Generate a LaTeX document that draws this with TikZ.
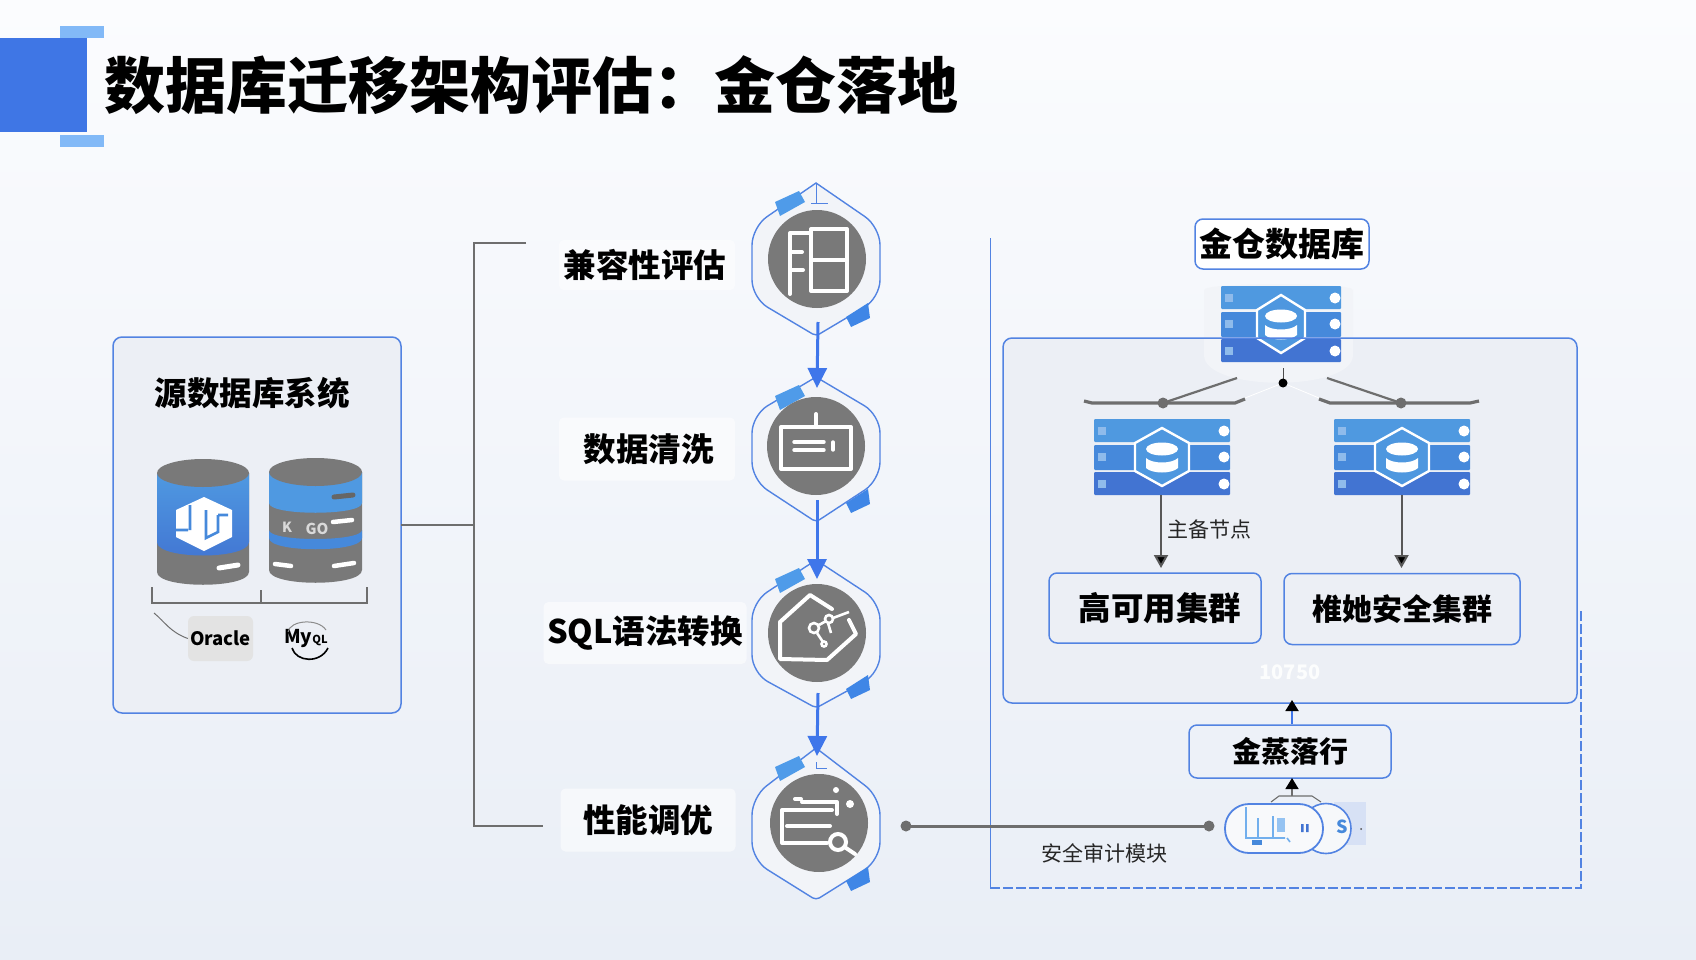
\documentclass[tikz,border=0pt]{standalone}
\usepackage{fontspec}
\setmainfont{Noto Sans CJK SC}
\usetikzlibrary{arrows.meta}
\definecolor{edgeblue}{HTML}{5283E2}
\definecolor{arrowblue}{HTML}{3F76EA}
\definecolor{iconbase}{HTML}{797979}
\definecolor{panelfill}{HTML}{ECEFF5}
\definecolor{linegray}{HTML}{6E6E6E}
\definecolor{tagtop}{HTML}{4F9BE9}
\definecolor{taglow}{HTML}{3F86E6}
\definecolor{sa}{HTML}{4F99E0}
\definecolor{sb}{HTML}{4689DB}
\definecolor{sc}{HTML}{4274D2}
\definecolor{sq}{HTML}{8FBBEB}
\definecolor{marklight}{HTML}{82B9F7}
\definecolor{bgtop}{HTML}{FBFCFE}
\definecolor{bgmid}{HTML}{F3F5FA}
\definecolor{bgbot}{HTML}{E9EEF6}
\newcommand{\fsz}[1]{\fontsize{#1}{#1}\selectfont}
\tikzset{
  x=1pt,y=-1pt,
  panel/.style={draw=edgeblue,line width=1.5pt,fill=panelfill,rounded corners=9pt},
  chip/.style={fill=white,fill opacity=.55,text opacity=1,rounded corners=5pt,inner sep=0pt,font=\fsz{32.5}\bfseries},
  boxed/.style={draw=edgeblue,line width=1.5pt,rounded corners=8pt,inner sep=0pt,font=\fsz{32.5}\bfseries},
  hexline/.style={draw=edgeblue,line width=1.4pt,fill=panelfill!70!white},
  badge/.style={circle,fill=iconbase,minimum size=98pt,inner sep=0pt},
  ic/.style={draw=white,line width=4pt,line cap=round,line join=round},
  flow/.style={draw=arrowblue,line width=3pt,-{Triangle[length=20pt,width=19pt]}},
  down/.style={draw=linegray!80!black,line width=2pt,-{Triangle[length=13pt,width=14pt,fill=black]}},
  upa/.style={line width=1.8pt,-{Triangle[length=11pt,width=13pt,color=black]}},
  glink/.style={draw=linegray,line width=2.8pt},
  thin/.style={draw=linegray,line width=1.3pt},
  note/.style={inner sep=0pt,text=black!85,font=\fsz{21}},
}
% hexagon cell: cx, top, side top, side bottom, bottom
\newcommand{\hexcell}[5]{%
  \path[hexline] (#1,#2) [rounded corners=18pt] -- (#1+64,#3) -- (#1+64,#4) [rounded corners=4pt] -- (#1,#5) [rounded corners=18pt] -- (#1-64,#4) -- (#1-64,#3) [sharp corners] -- cycle;
  \fill[tagtop] (#1-41,#2+19) -- (#1-17,#2+8) -- (#1-11,#2+19) -- (#1-36,#2+33) -- cycle;
  \fill[taglow] (#1+30,#5-19) -- (#1+52,#5-33) -- (#1+54,#5-18) -- (#1+35,#5-9) -- cycle;
}
\newcommand{\serverdb}[4]{%
  \fill[sa,rounded corners=1pt] (#1-#3,#2-38) rectangle (#1+#3,#2-15);
  \fill[sb,rounded corners=1pt] (#1-#3,#2-12) rectangle (#1+#3,#2+13);
  \fill[sc,rounded corners=1pt] (#1-#3,#2+15) rectangle (#1+#3,#2+38);
  \foreach \yy in {-26,0,27}{
    \fill[sq] (#1-#3+4,#2+\yy-4) rectangle ++(8,8);
    \fill[white] (#1+#3-6,#2+\yy) circle (5.5);
  }
  \draw[white,line width=2.4pt,fill=sa!85!sb] (#1,#2-29) -- (#1+#4,#2-14) -- (#1+#4,#2+14) -- (#1,#2+29) -- (#1-#4,#2+14) -- (#1-#4,#2-14) -- cycle;
  \fill[white] (#1,#2-8) ellipse (16 and 6.5);
  \fill[white] (#1-16,#2+1) .. controls (#1-10,#2+7) and (#1+10,#2+7) .. (#1+16,#2+1) -- (#1+16,#2+11) .. controls (#1+10,#2+17) and (#1-10,#2+17) .. (#1-16,#2+11) -- cycle;
}
\begin{document}
\begin{tikzpicture}
\useasboundingbox (0,0) rectangle (1696,960);
\shade[top color=bgtop,middle color=bgmid,bottom color=bgbot] (0,0) rectangle (1696,960);

% header mark
\fill[marklight] (60,26) rectangle (104,38);
\fill[marklight] (60,135) rectangle (104,147);
\fill[arrowblue!80!sc] (0,38) rectangle (87,132);
\node[inner sep=0pt,anchor=west,font=\fsz{61}\bfseries] (title) at (104,85) {数据库迁移架构评估：金仓落地};

% source panel
\path[panel] (113,337) rectangle (401,713);
\node[inner sep=0pt,font=\fsz{32.5}\bfseries] (srctitle) at (252,393) {源数据库系统};

% cylinder 1
\fill[iconbase] (157,473) -- (249,473) -- (249,572) .. controls (249,589) and (157,589) .. (157,572) -- cycle;
\shade[top color=sa!90!tagtop,bottom color=sc!90!sb] (157,473) -- (249,473) -- (249,542) .. controls (249,560) and (157,560) .. (157,542) -- cycle;
\fill[iconbase] (203,473) ellipse (46 and 14);
\fill[white] (204,497) -- (232,510) -- (232,537) -- (204,551) -- (176,537) -- (176,510) -- cycle;
\draw[sb,line width=2.6pt] (190,505) -- (190,530) (176,530) -- (188,530) (206,510) -- (206,538) -- (218,532) -- (218,515) (218,515) -- (228,515);
\draw[white,line width=5pt,line cap=round] (219,568) -- (238,565);

% cylinder 2
\fill[iconbase] (269,472) -- (362,472) -- (362,570) .. controls (362,587) and (269,587) .. (269,570) -- cycle;
\fill[sa!90!tagtop] (269,472) -- (362,472) -- (362,503) .. controls (362,516) and (269,516) .. (269,503) -- cycle;
\fill[sb] (269,530) .. controls (269,542) and (362,542) .. (362,530) -- (362,538) .. controls (362,553) and (269,553) .. (269,538) -- cycle;
\fill[iconbase] (315.5,472) ellipse (46.5 and 14);
\draw[black!60,line width=5pt,line cap=round] (334,497) -- (353,495);
\draw[white,line width=4.5pt,line cap=round] (333,522) -- (352,520) (275,564) -- (291,566) (334,566) -- (354,563);
\node[inner sep=0pt,text=white!85!black,font=\fsz{15}\bfseries] (glyphb) at (317,529) {GO};
\node[inner sep=0pt,text=white!85!black,font=\fsz{14}\bfseries] (glypha) at (287,527) {K};

% bracket under cylinders
\draw[thin] (152,587) -- (152,603) -- (367,603) -- (367,587) (261,590) -- (261,603);
\node[fill=black!11,rounded corners=6pt,minimum width=65pt,minimum height=45pt,inner sep=0pt,font=\fsz{18.5}\bfseries] (oracle) at (220.5,638.5) {Oracle};
\coordinate (orfree) at (154,613);
\draw[draw=linegray,line width=1pt] (orfree) .. controls (165,622) and (170,632) .. (oracle.west);
\node[inner sep=0pt,font=\fsz{19}\bfseries] (mysql) at (306,638) {My\fsz{11}QL};
\draw[black,line width=1.6pt] (292,648) .. controls (296,662) and (320,664) .. (328,648);
\draw[black!45,line width=1pt] (288,632) .. controls (290,620) and (318,618) .. (326,630);

% source to bracket
\coordinate (brU) at (526,243);
\coordinate (brL) at (543,826);
\draw[glink] (401,525) -- (474,525);
\draw[glink] (brU) -- (474,243) -- (474,826) -- (brL);

% step labels
\node[chip,minimum width=176pt,minimum height=50pt] (s1) at (647,265) {\hspace*{-4pt}兼容性评估};
\node[chip,minimum width=176pt,minimum height=63pt] (s2) at (647,449) {\hspace*{3pt}数据清洗};
\node[chip,minimum width=203pt,minimum height=62pt] (s3) at (645,633) {SQL语法转换};
\node[chip,minimum width=175pt,minimum height=63pt] (s4) at (648,820) {性能调优};

% hexagons
\hexcell{816}{183}{227}{298}{336}
\hexcell{816}{377}{415}{480}{522}
\hexcell{816}{560}{602}{673}{708}
\hexcell{816}{748}{797}{860}{900}
\draw[edgeblue,line width=.8pt] (816,184) -- (816,203) (811,203) -- (828,203);
\draw[edgeblue,line width=1pt] (816,762) -- (816,768) -- (827,768);

% icon 1
\node[badge] (c1) at (817,259) {};
\begin{scope}[shift={(817,259)}]
\draw[ic] (-6,-30) rectangle (30,32) (-6,1) -- (30,1);
\draw[ic] (-6,-26) -- (-27,-26) -- (-27,35) (-27,-7) -- (-15,-7) (-27,11) -- (-14,11);
\end{scope}
% icon 2
\node[badge] (c2) at (816,446) {};
\begin{scope}[shift={(816,446)}]
\draw[ic] (-35,-19) rectangle (35,23) (0,-32) -- (0,-19);
\draw[ic,line width=3.4pt] (-22,-4) -- (8,-4) (-22,4) -- (8,4) (17,-4) -- (17,4);
\end{scope}
% icon 3
\node[badge] (c3) at (817,633) {};
\begin{scope}[shift={(817,633)}]
\draw[ic] (15,-24) -- (-7,-38) -- (-37,-11) -- (-37,26) -- (10,27) -- (39,1) -- (32,-13);
\draw[white,line width=2.6pt] (-3,-5) circle (5) (12,-14) circle (4) (7,11) circle (2.5);
\draw[white,line width=2.6pt] (2,-8) -- (9,-12) (16,-15) -- (32,-21) (0,0) -- (6,9) (11,-10) -- (14,0);
\end{scope}
% icon 4
\node[badge] (c4) at (819,823) {};
\begin{scope}[shift={(819,823)}]
\draw[ic] (-24,-24) -- (-18,-24) (-17,-21) -- (18,-21) -- (18,-9);
\draw[ic] (13,-13) -- (-37,-13) -- (-37,20) -- (8,20) (-32,3) -- (11,3);
\draw[white,line width=4pt] (19,19) circle (8);
\draw[ic] (27,25) -- (36,31);
\fill[white] (17,-33) circle (3) (31,-19) circle (4);
\end{scope}

% flow arrows
\coordinate (f1a) at (818,322); \coordinate (f1b) at (817,388);
\coordinate (f2a) at (817,500); \coordinate (f2b) at (817,579);
\coordinate (f3a) at (818,693); \coordinate (f3b) at (817,756);
\draw[flow] (f1a) -- (f1b);
\draw[flow] (f2a) -- (f2b);
\draw[flow] (f3a) -- (f3b);

% right frame
\draw[edgeblue,line width=1pt] (990,238) -- (990,888);
\draw[edgeblue,line width=1.3pt,dashed,dash pattern=on 10pt off 3pt] (990,888) -- (1581,888) -- (1581,610);

% target panel
\path[fill=panelfill,rounded corners=9pt] (1003,338) rectangle (1577,703);
\path[fill=panelfill!70!white] (1204,290) .. controls (1204,282) and (1353,282) .. (1353,290) -- (1353,355) .. controls (1353,392) and (1204,392) .. (1204,355) -- cycle;
\serverdb{1281}{324}{60}{24}
\draw[edgeblue,line width=1.5pt,rounded corners=9pt] (1003,338) rectangle (1577,703);

\node[boxed,fill=white,minimum width=174pt,minimum height=50pt,font=\fsz{33}\bfseries] (kes) at (1282,244) {金仓数据库};

% tree under top server
\coordinate (hub) at (1283,383);
\coordinate (hubt) at (1283,368);
\coordinate (ja) at (1163,403);
\coordinate (jb) at (1401,403);
\coordinate (ta) at (1237,378);
\coordinate (tb) at (1327,378);
\draw[white,line width=.8pt] (hub) -- (1245,398) (hub) -- (1319,398);
\draw[black!70,line width=1pt] (hubt) -- (hub);
\fill[black] (hub) circle (4.5);
\draw[glink,line width=2.2pt] (ta) -- (ja) (tb) -- (jb);
\draw[glink,line width=3.2pt] (1084,401) -- (1092,403) -- (1235,403) -- (1245,399);
\draw[glink,line width=3.2pt] (1319,399) -- (1330,403) -- (1470,403) -- (1479,401);
\fill[linegray] (ja) circle (5.5) (jb) circle (5.5);

\serverdb{1162}{457}{68}{27}
\serverdb{1402}{457}{68}{27}

% clusters
\node[boxed,minimum width=212pt,minimum height=70pt] (ha) at (1155,608) {\hspace*{10pt}高可用集群};
\node[boxed,minimum width=236pt,minimum height=71pt,font=\fsz{30}\bfseries] (sec) at (1402,609) {椎她安全集群};
\coordinate (d1) at (1161,495);
\coordinate (d2) at (1401.5,495);
\draw[down] (d1) -- (1161,568);
\draw[down] (d2) -- (1401.5,568);
\node[note] (zb) at (1209,529) {主备节点};
\node[inner sep=0pt,text=white!85!panelfill,font=\fsz{20}\bfseries] (faint) at (1290,672) {10750};

% lower chain
\node[boxed,minimum width=202pt,minimum height=53pt,font=\fsz{29}\bfseries] (mig) at (1290,751.5) {金蒸落行};
\draw[upa,draw=arrowblue] (mig.north -| 1292,725) -- (1292,700);
\coordinate (cha) at (1292,796);
\draw[upa,draw=linegray,line width=1.6pt] (cha) -- (1292,778);
\draw[draw=linegray,line width=1.1pt] (1271,802) -- (1279,796) -- (1312,796) -- (1321,802);

% audit device
\fill[panelfill!75!edgeblue!70!white] (1334,802) rectangle (1366,845);
\draw[edgeblue,line width=1.6pt,fill=white!55!panelfill] (1326,828.5) circle (25);
\node[inner sep=0pt,text=sb,font=\fsz{18}\bfseries] (sglyph) at (1342,827) {S};
\fill[black!70] (1361,829) circle (1);
\node[draw=edgeblue,line width=1.8pt,fill=white!65!panelfill,rounded corners=24pt,minimum width=98pt,minimum height=49pt,inner sep=0pt] (audit) at (1274,828.5) {};
\draw[tagtop!80!white,line width=1.6pt] (1246,807) -- (1246,838) -- (1285,838) (1258,818) -- (1258,838) (1273,816) -- (1273,838) (1290,842) -- (1287,838);
\fill[tagtop!60!white] (1277,818) rectangle (1285,832);
\fill[sb] (1252,840) rectangle ++(10,5);
\fill[sc] (1301,824) rectangle ++(2.5,8) (1306,824) rectangle ++(2.5,8);

% audit connector
\coordinate (apa) at (906,826);
\coordinate (apb) at (1209,826);
\draw[glink,line width=3pt] (apa) -- (apb);
\fill[linegray] (apa) circle (5.5) (apb) circle (5.5);
\node[note] (sec2) at (1104,853) {安全审计模块};
\end{tikzpicture}
\end{document}
